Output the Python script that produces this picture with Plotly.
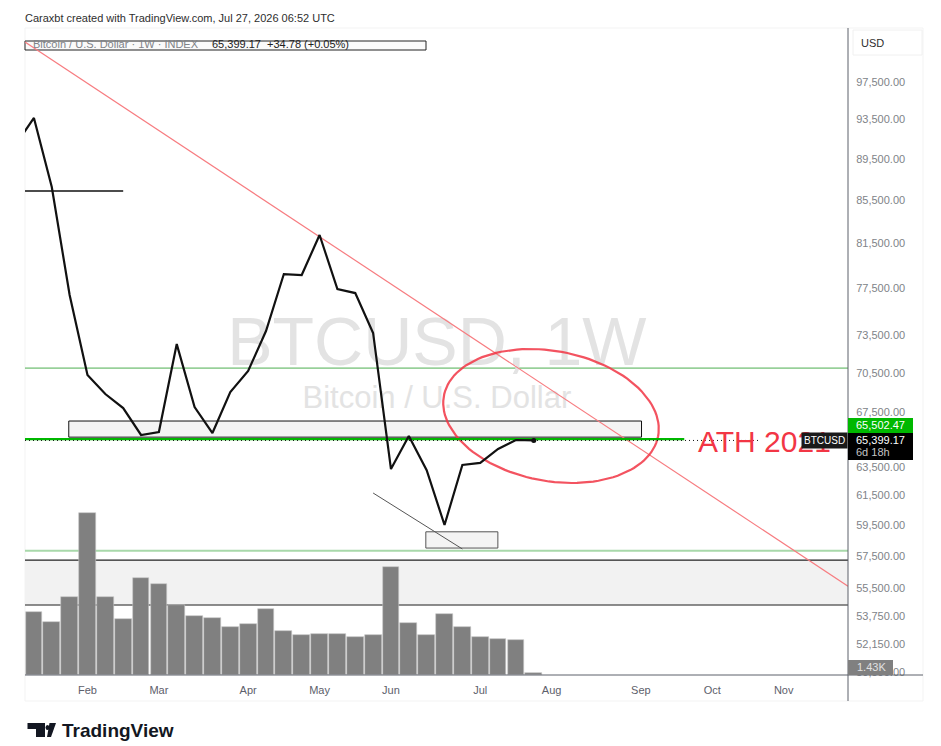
import numpy as np
import pandas as pd
import plotly.graph_objects as go

# Weekly closes
price_dates = pd.date_range("2026-01-05", "2026-07-27", freq="7D")
closes = [91000, 93670, 86740, 76900, 70350, 68870, 67800, 65800, 66020, 72810,
          67880, 65940, 69020, 70660, 73880, 78720, 78630, 82220, 77420, 77070,
          73720, 63350, 65720, 63270, 59520, 63640, 63780, 64780, 65430, 65399.17]

# Volume in thousands, first bar is the week of Jan 12
volume_dates = pd.date_range("2026-01-12", "2026-07-27", freq="7D")
volumes = [54.0, 45.5, 67.0, 139.0, 67.0, 48.0, 83.0, 78.0, 60.0, 51.0, 49.0, 41.0,
           44.0, 57.0, 37.5, 34.0, 35.5, 35.5, 33.0, 34.5, 92.5, 45.0, 34.5, 52.0,
           41.5, 33.0, 31.0, 30.0, 1.43]

price_ticks = [97500, 93500, 89500, 85500, 81500, 77500, 73500, 70500, 67500, 63500,
               61500, 59500, 57500, 55500, 53750, 52150, 50500]
month_ticks = ["2026-02-02", "2026-03-02", "2026-04-06", "2026-05-04", "2026-06-01",
               "2026-07-06", "2026-08-03", "2026-09-07", "2026-10-05", "2026-11-02"]
month_labels = ["Feb", "Mar", "Apr", "May", "Jun", "Jul", "Aug", "Sep", "Oct", "Nov"]

last_price = 65399.17
pre_price = 65502.47

x_start = "2026-01-08 12:00"
x_end = "2026-11-27 05:00"
price_low = 50360
price_high = 103545

GRAY = "#808388"
RED = "#f23645"
FONT = "Liberation Sans"

# plot box in page pixels
L, R, T, B = 25, 848, 28, 675


def px(x):
    return (x - L) / (R - L)


def py(y):
    return 1 - (y - T) / (B - T)


fig = go.Figure()

# watermark goes first so everything sits on top of it
fig.add_trace(go.Scatter(
    x=["2026-06-19", "2026-06-19"], y=[72500, 68400], mode="text",
    text=["BTCUSD, 1W", "Bitcoin / U.S. Dollar"],
    textfont=dict(size=[68, 31], color="#e3e3e3", family=FONT),
    hoverinfo="skip", showlegend=False))

# red trend line and the tilted ellipse
fig.add_trace(go.Scatter(
    x=[x_start, x_end], y=[101940, 55600], mode="lines",
    line=dict(color="#f77c80", width=1.2), showlegend=False))

t = np.linspace(0, 2 * np.pi, 120)
tilt = np.radians(10.7)
ex = 551 + 109 * np.cos(t) * np.cos(tilt) - 65 * np.sin(t) * np.sin(tilt)
ey = 416 + 109 * np.cos(t) * np.sin(tilt) + 65 * np.sin(t) * np.cos(tilt)
start = pd.Timestamp(x_start)
span = pd.Timestamp(x_end) - start
ellipse_x = [start + span * float(px(v)) for v in ex]
ellipse_y = price_low * (price_high / price_low) ** py(ey)
fig.add_trace(go.Scatter(
    x=ellipse_x, y=ellipse_y, mode="lines",
    line=dict(color=RED, width=2.2), opacity=0.85, showlegend=False))

# dotted last price line, then the price line itself
fig.add_trace(go.Scatter(
    x=[x_start, "2026-09-24"], y=[pre_price, pre_price], mode="lines",
    line=dict(color="#00b800", width=2.2), showlegend=False))
fig.add_trace(go.Scatter(
    x=[x_start, "2026-10-24"], y=[last_price, last_price], mode="lines",
    line=dict(color="#111111", width=1, dash="1px 3px"), showlegend=False))
fig.add_trace(go.Scatter(
    x=price_dates, y=closes, mode="lines",
    line=dict(color="#111111", width=2.2), showlegend=False))
fig.add_trace(go.Scatter(
    x=[price_dates[-1]], y=[last_price], mode="markers",
    marker=dict(color="#111111", size=5), showlegend=False))

fig.add_trace(go.Bar(
    x=volume_dates, y=volumes, yaxis="y2", width=7 * 24 * 3600 * 1000 * 0.94,
    marker=dict(color="#808080", line=dict(color="#c4c4c4", width=0.6)),
    showlegend=False))

shapes = []
# outer chart frame
shapes.append(dict(type="rect", xref="paper", yref="paper", x0=0, x1=px(923), y0=py(701), y1=1,
                   line=dict(color="#f3f3f3", width=1), layer="below"))

# shaded band behind the volume, only top and bottom are outlined
shapes.append(dict(type="rect", xref="x", yref="y", x0=x_start, x1=x_end, y0=54440, y1=57240,
                   fillcolor="#f2f2f2", line=dict(width=0), layer="below"))

# drawn lines and boxes, in chart values
hlines = [
    (x_start, x_end, 70890, "#4caf50", 1),
    (x_start, x_end, 57830, "#a8d8aa", 2),
    (x_start, x_end, 57240, "#222222", 1.2),
    (x_start, x_end, 54440, "#666666", 1.5),
    (x_start, "2026-02-16", 86350, "#111111", 1.5),
]
for x0, x1, level, color, width in hlines:
    shapes.append(dict(type="line", xref="x", yref="y", x0=x0, x1=x1, y0=level, y1=level,
                       line=dict(color=color, width=width), layer="below"))

boxes = [
    ("2026-01-25 16:00", "2026-09-07 06:00", 65640, 66830, "#111111"),
    ("2026-06-14 16:00", "2026-07-12 22:00", 58010, 59070, "#555555"),
]
for x0, x1, y0, y1, color in boxes:
    shapes.append(dict(type="rect", xref="x", yref="y", x0=x0, x1=x1, y0=y0, y1=y1,
                       fillcolor="#f4f4f4", line=dict(color=color, width=1), layer="below"))

shapes.append(dict(type="line", xref="x", yref="y", x0="2026-05-25", x1="2026-06-29",
                   y0=61680, y1=57950, line=dict(color="#555555", width=1), layer="above"))

# legend box at the top
shapes.append(dict(type="rect", xref="paper", yref="paper", x0=0, x1=px(426), y0=py(50), y1=py(41),
                   fillcolor="#fafafa", line=dict(color="#222222", width=1), layer="below"))

# price axis and time axis lines
shapes.append(dict(type="line", xref="paper", yref="paper", x0=1, x1=1, y0=py(701), y1=1,
                   line=dict(color="#5d606b", width=1), layer="above"))
shapes.append(dict(type="line", xref="paper", yref="paper", x0=0, x1=px(923), y0=0, y1=0,
                   line=dict(color="#5d606b", width=1), layer="above"))

# USD button
shapes.append(dict(type="rect", xref="paper", yref="paper", x0=px(853), x1=px(922), y0=py(55), y1=py(30),
                   line=dict(color="#f0f0f0", width=1), layer="above"))

# price tags on the axis
tags = [(848, 913, 418, 433, "#00b800"), (848, 913, 433, 460, "#000000"), (848, 893, 660, 675, "#808080")]
for x0, x1, y0, y1, color in tags:
    shapes.append(dict(type="rect", xref="paper", yref="paper", x0=px(x0), x1=px(x1), y0=py(y1), y1=py(y0),
                       fillcolor=color, line=dict(width=0), layer="above"))

# TradingView logo
logo_t = "M {} {} L {} {} L {} {} L {} {} L {} {} L {} {} Z".format(
    px(27.5), py(723), px(45), py(723), px(45), py(737), px(36), py(737), px(36), py(729), px(27.5), py(729))
logo_slash = "M {} {} L {} {} L {} {} L {} {} Z".format(
    px(47), py(737), px(49.5), py(723), px(56), py(723), px(51), py(737))
shapes.append(dict(type="path", xref="paper", yref="paper", path=logo_t, fillcolor="#131722", line=dict(width=0)))
shapes.append(dict(type="path", xref="paper", yref="paper", path=logo_slash, fillcolor="#131722", line=dict(width=0)))
shapes.append(dict(type="circle", xref="paper", yref="paper", x0=px(45.5), x1=px(49.5), y0=py(730), y1=py(725),
                   fillcolor="#131722", line=dict(width=0)))


# annotations carry about 2px of padding, so pull them back
def note(x, y, text, size=11, color=GRAY, anchor="left"):
    return dict(xref="paper", yref="paper", x=px(x - 2), y=py(y), text=text, showarrow=False,
                xanchor=anchor, yanchor="middle", font=dict(size=size, color=color, family=FONT))


annotations = [
    note(25, 18, "Caraxbt created with TradingView.com, Jul 27, 2026 06:52 UTC", 11, "#2e2e2e"),
    note(33, 44, "Bitcoin / U.S. Dollar · 1W · INDEX", 11, GRAY),
    note(212, 44, "65,399.17  +34.78 (+0.05%)", 11, "#222222"),
    note(698, 441, "ATH 2021", 30, RED),
    dict(xref="paper", yref="paper", x=px(848), y=py(440), text="BTCUSD", showarrow=False,
         xanchor="right", yanchor="middle", bgcolor="#1a1a1a", borderpad=2,
         font=dict(size=10, color="#ffffff", family=FONT)),
    note(861, 43, "USD", 11, "#2e2e2e"),
    note(856, 425, f"{pre_price:,.2f}", 11, "#ffffff"),
    note(856, 440, f"{last_price:,.2f}", 11, "#ffffff"),
    note(856, 452, "6d 18h", 11, "#c4c4c4"),
    note(857, 667, "1.43K", 11, "#e0e0e0"),
    note(62, 730, "<b>TradingView</b>", 19, "#131722"),
]

fig.update_layout(
    width=941, height=746, autosize=False,
    margin=dict(l=L, r=941 - R, t=T, b=746 - B),
    paper_bgcolor="white", plot_bgcolor="white",
    font=dict(family=FONT, size=11, color=GRAY),
    showlegend=False, hovermode=False, bargap=0,
    shapes=shapes, annotations=annotations,
    xaxis=dict(type="date", range=[x_start, x_end], tickvals=month_ticks, ticktext=month_labels,
               showgrid=False, zeroline=False, showline=False, ticks="outside", ticklen=5,
               tickcolor="rgba(0,0,0,0)", tickfont=dict(size=11, color="#5d606b")),
    yaxis=dict(type="log", side="right", range=[np.log10(price_low), np.log10(price_high)],
               tickvals=price_ticks, tickformat=",.2f", showgrid=False, zeroline=False,
               showline=False, ticks="outside", ticklen=5, tickcolor="rgba(0,0,0,0)",
               tickfont=dict(size=11, color=GRAY)),
    yaxis2=dict(overlaying="y", range=[0, 555], visible=False),
)

# the page has a default body margin, the chart should start at the corner
fig.write_html("out.html", config=dict(displayModeBar=False),
               post_script="document.body.style.margin='0';")
